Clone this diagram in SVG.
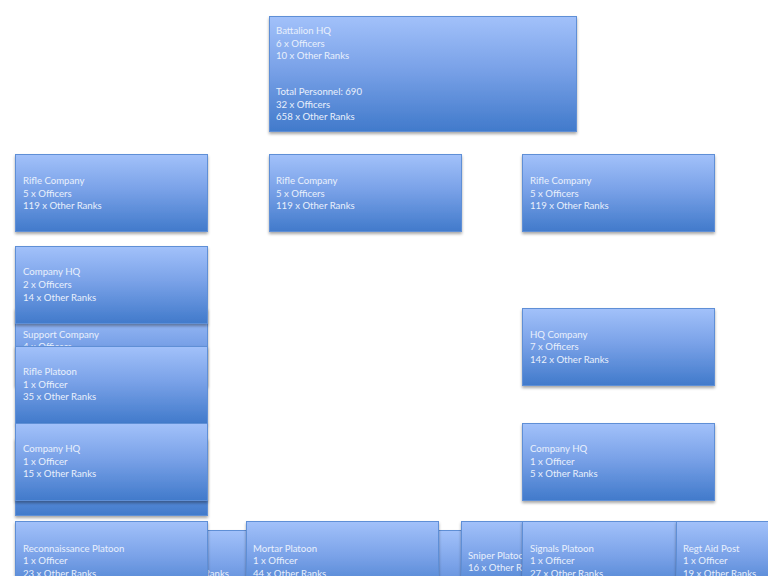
<svg xmlns="http://www.w3.org/2000/svg" width="768" height="576" viewBox="0 0 768 576">
<defs>
<linearGradient id="g" x1="0" y1="0" x2="0" y2="1">
<stop offset="0" stop-color="#a2c1fa"/>
<stop offset="0.45" stop-color="#7aa2e8"/>
<stop offset="1" stop-color="#417acb"/>
</linearGradient>
<filter id="sh" x="-5%" y="-5%" width="110%" height="120%">
<feDropShadow dx="0" dy="2" stdDeviation="1.5" flood-color="#000" flood-opacity="0.35"/>
</filter>
</defs>
<style>
.b{fill:url(#g);stroke:#5f8fd6;stroke-width:1;filter:url(#sh)}
text{font-family:Lato,"Liberation Sans",sans-serif;font-size:9.6px;fill:#e9f0fc}
</style>
<rect width="768" height="576" fill="#fff"/>
<g id="connectors"/>
<g id="battalion-hq">
<rect class="b" x="269.5" y="16.5" width="307" height="115"/>
<text x="276" y="34">Battalion HQ</text>
<text x="276" y="46.5">6 x Officers</text>
<text x="276" y="59">10 x Other Ranks</text>
<text x="276" y="95">Total Personnel: 690</text>
<text x="276" y="107.5">32 x Officers</text>
<text x="276" y="120">658 x Other Ranks</text>
</g>
<g id="rifle-company-1">
<rect class="b" x="15.5" y="154.5" width="192" height="77"/>
<text x="23" y="184">Rifle Company</text>
<text x="23" y="196.5">5 x Officers</text>
<text x="23" y="209">119 x Other Ranks</text>
</g>
<g id="rifle-company-2">
<rect class="b" x="269.5" y="154.5" width="192" height="77"/>
<text x="276" y="184">Rifle Company</text>
<text x="276" y="196.5">5 x Officers</text>
<text x="276" y="209">119 x Other Ranks</text>
</g>
<g id="rifle-company-3">
<rect class="b" x="522.5" y="154.5" width="192" height="77"/>
<text x="530" y="184">Rifle Company</text>
<text x="530" y="196.5">5 x Officers</text>
<text x="530" y="209">119 x Other Ranks</text>
</g>
<g id="support-company">
<rect class="b" x="15.5" y="308.5" width="192" height="77"/>
<text x="23" y="337.5">Support Company</text>
<text x="23" y="350">4 x Officers</text>
</g>
<g id="company-hq-1">
<rect class="b" x="15.5" y="246.5" width="192" height="77"/>
<text x="23" y="275">Company HQ</text>
<text x="23" y="288">2 x Officers</text>
<text x="23" y="300.5">14 x Other Ranks</text>
</g>
<g id="rifle-platoon">
<rect class="b" x="15.5" y="346.5" width="192" height="77"/>
<text x="23" y="375">Rifle Platoon</text>
<text x="23" y="388">1 x Officer</text>
<text x="23" y="400">35 x Other Ranks</text>
</g>
<g id="hidden-box-left">
<rect class="b" x="15.5" y="438.5" width="192" height="77"/>
</g>
<g id="company-hq-2">
<rect class="b" x="15.5" y="423.5" width="192" height="77"/>
<text x="23" y="452">Company HQ</text>
<text x="23" y="465">1 x Officer</text>
<text x="23" y="477">15 x Other Ranks</text>
</g>
<g id="hq-company">
<rect class="b" x="522.5" y="308.5" width="192" height="77"/>
<text x="530" y="337.5">HQ Company</text>
<text x="530" y="350">7 x Officers</text>
<text x="530" y="362.5">142 x Other Ranks</text>
</g>
<g id="company-hq-3">
<rect class="b" x="522.5" y="423.5" width="192" height="77"/>
<text x="530" y="452">Company HQ</text>
<text x="530" y="465">1 x Officer</text>
<text x="530" y="477">5 x Other Ranks</text>
</g>
<g id="platoon-a">
<rect class="b" x="148.5" y="530.5" width="192" height="77"/>
<text x="229" y="576.5" text-anchor="end">Other Ranks</text>
</g>
<g id="platoon-b">
<rect class="b" x="269.5" y="530.5" width="192" height="77"/>
</g>
<g id="recon-platoon">
<rect class="b" x="15.5" y="521.5" width="192" height="77"/>
<text x="23" y="552">Reconnaissance Platoon</text>
<text x="23" y="564">1 x Officer</text>
<text x="23" y="576.5">23 x Other Ranks</text>
</g>
<g id="mortar-platoon">
<rect class="b" x="246.5" y="521.5" width="192" height="77"/>
<text x="253" y="552">Mortar Platoon</text>
<text x="253" y="564">1 x Officer</text>
<text x="253" y="576.5">44 x Other Ranks</text>
</g>
<g id="sniper-platoon">
<rect class="b" x="461.5" y="521.5" width="192" height="77"/>
<text x="468" y="558.5">Sniper Platoon</text>
<text x="468" y="571">16 x Other Ranks</text>
</g>
<g id="signals-platoon">
<rect class="b" x="522.5" y="521.5" width="192" height="77"/>
<text x="530" y="552">Signals Platoon</text>
<text x="530" y="564">1 x Officer</text>
<text x="530" y="576.5">27 x Other Ranks</text>
</g>
<g id="regt-aid-post">
<rect class="b" x="676.5" y="521.5" width="192" height="77"/>
<text x="683" y="552">Regt Aid Post</text>
<text x="683" y="564">1 x Officer</text>
<text x="683" y="576.5">19 x Other Ranks</text>
</g>
</svg>
